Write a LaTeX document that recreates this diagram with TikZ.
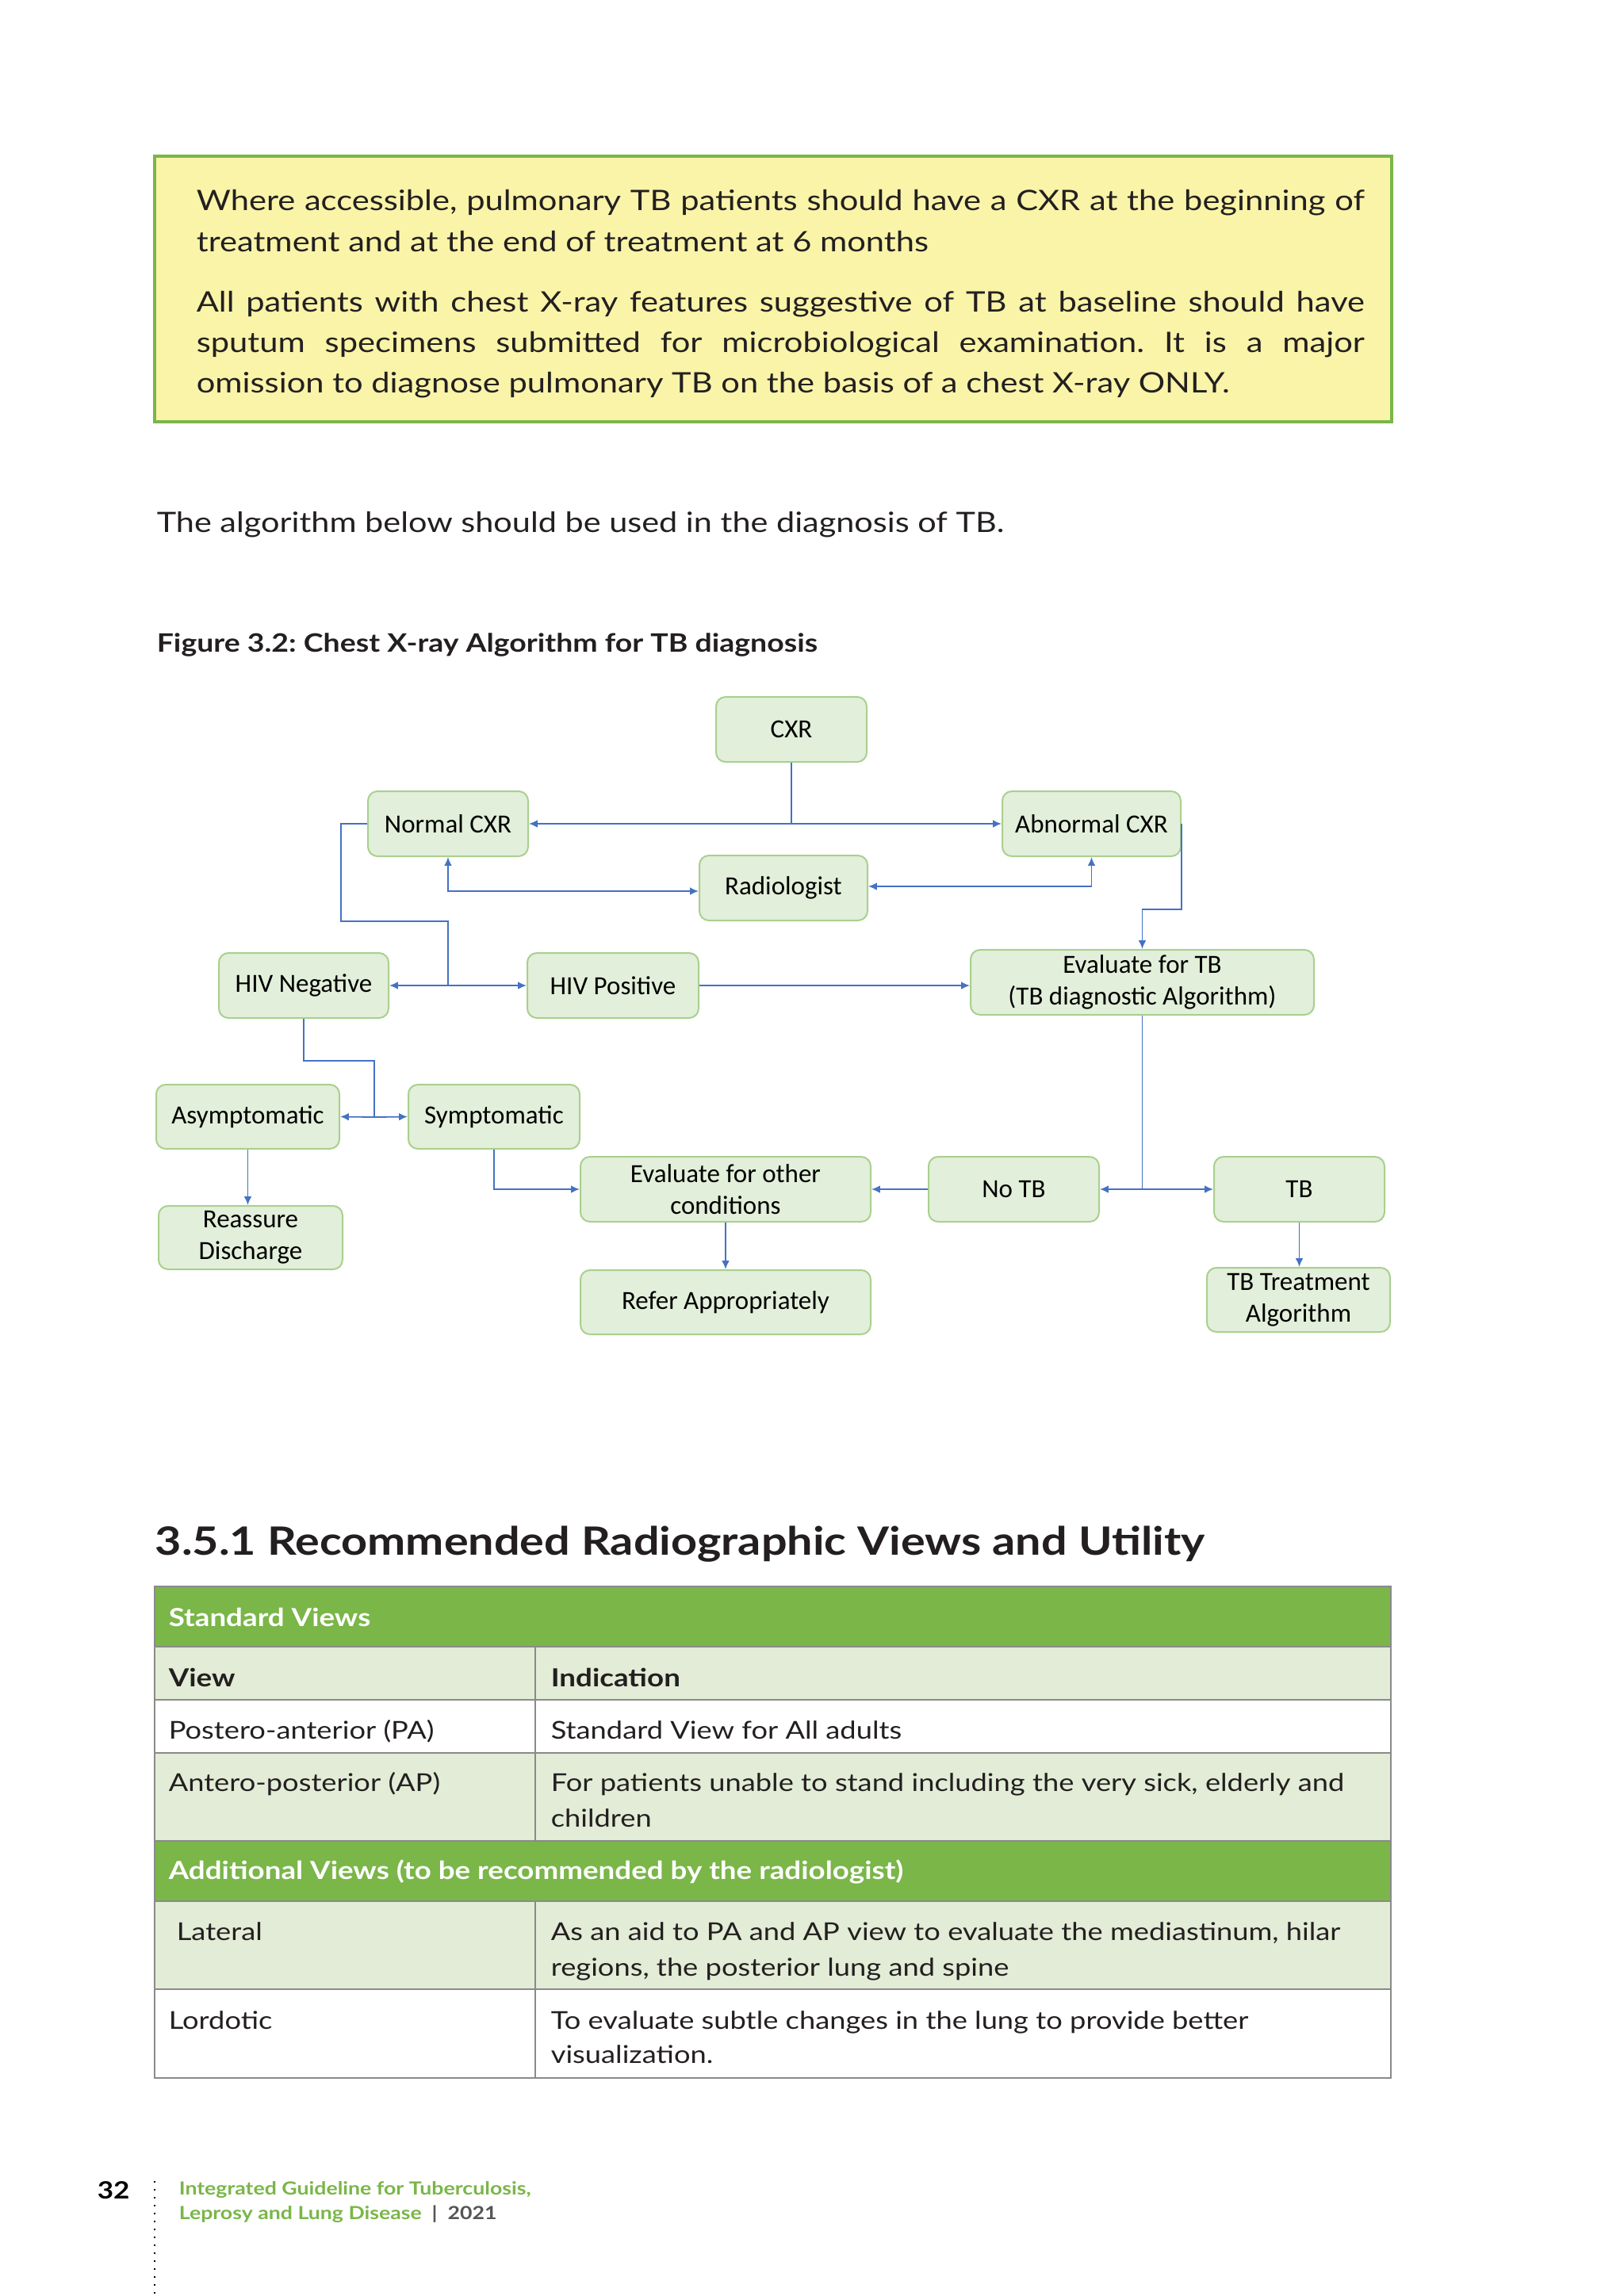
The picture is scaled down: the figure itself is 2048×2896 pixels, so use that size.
\documentclass[tikz,border=0pt]{standalone}
\usepackage{fontspec}
\setmainfont{Lato}[FakeStretch=1.17]
\newfontfamily\calib{Carlito}
\usetikzlibrary{arrows.meta}
\frenchspacing
\definecolor{txt}{HTML}{231F20}
\definecolor{noteFill}{HTML}{F9F4A8}
\definecolor{gGreen}{HTML}{7AB648}
\definecolor{flowFill}{HTML}{E2EFDA}
\definecolor{flowLine}{HTML}{A9D08E}
\definecolor{arrowBlue}{HTML}{4472C4}
\definecolor{rowLight}{HTML}{E2ECD6}
\definecolor{gridGray}{HTML}{8A8A8A}
\definecolor{footGray}{HTML}{555555}
\newcommand{\flowbx}[6]{\node[flowbox, minimum width={(#4-#2)*0.25pt}, minimum height={(#5-#3)*0.25pt}] (#1) at ({(#2+#4)/2},{(#3+#5)/2}) {#6};}
\begin{document}
\frenchspacing
\begin{tikzpicture}[x=0.25pt,y=-0.25pt,
  flowbox/.style={draw=flowLine, fill=flowFill, line width=0.5pt, rounded corners=3pt, inner sep=0pt, align=center, text=black,
    font=\calib\fontsize{8.25pt}{10pt}\selectfont},
  conn/.style={draw=arrowBlue, line width=0.45pt, >={Latex[length=2.7pt,width=2.4pt]}},
  lbl/.style={anchor=base west, inner sep=0pt, text=txt},
  bodyfont/.style={font=\fontsize{8.9pt}{10.5pt}\selectfont},
  tfont/.style={font=\fontsize{7.75pt}{9pt}\selectfont},
  tbold/.style={font=\bfseries\fontsize{7.85pt}{9pt}\selectfont}
]
\useasboundingbox[fill=white] (0,0) rectangle (2048,2896);

% ---------- note box ----------
\node[draw=gGreen, fill=noteFill, line width=1pt, minimum width={1560*0.25pt}, minimum height={335*0.25pt}, inner sep=0pt] (notebox) at (975,364) {};
\node[lbl, bodyfont] (n1) at (247,265) {\makebox[368.25pt][s]{Where accessible, pulmonary TB patients should have a CXR at the beginning of}};
\node[lbl, bodyfont] (n2) at (247,317) {treatment and at the end of treatment at 6 months};
\node[lbl, bodyfont] (n3) at (247,393) {\makebox[368.25pt][s]{All patients with chest X-ray features suggestive of TB at baseline should have}};
\node[lbl, bodyfont] (n4) at (247,444) {\makebox[368.25pt][s]{sputum specimens submitted for microbiological examination. It is a major}};
\node[lbl, bodyfont] (n5) at (247,495) {omission to diagnose pulmonary TB on the basis of a chest X-ray ONLY.};

% ---------- intro and caption ----------
\node[lbl, font=\fontsize{8.85pt}{11pt}\selectfont] (intro) at (197,671) {The algorithm below should be used in the diagnosis of TB.};
\node[lbl, font=\bfseries\fontsize{8pt}{10pt}\selectfont] (caption) at (197,822) {Figure 3.2: Chest X-ray Algorithm for TB diagnosis};

% ---------- flowchart ----------
\flowbx{CXR}{903}{879}{1093}{961}{CXR}
\flowbx{Normal}{464}{998}{666}{1080}{Normal CXR}
\flowbx{Abnormal}{1264}{998}{1489}{1080}{Abnormal CXR}
\flowbx{Radiologist}{882}{1079}{1094}{1161}{Radiologist}
\flowbx{HIVneg}{276}{1202}{490}{1284}{HIV Negative}
\flowbx{HIVpos}{665}{1202}{881}{1284}{HIV Positive}
\flowbx{EvalTB}{1224}{1198}{1657}{1280}{Evaluate for TB\\(TB diagnostic Algorithm)}
\flowbx{Asym}{197}{1368}{428}{1449}{Asymptomatic}
\flowbx{Symp}{515}{1368}{731}{1449}{Symptomatic}
\flowbx{Reassure}{200}{1521}{432}{1601}{Reassure\\Discharge}
\flowbx{EvalOther}{732}{1459}{1098}{1541}{Evaluate for other\\conditions}
\flowbx{NoTB}{1171}{1459}{1386}{1541}{No TB}
\flowbx{TB}{1531}{1459}{1746}{1541}{TB}
\flowbx{Refer}{732}{1602}{1098}{1683}{Refer Appropriately}
\flowbx{TBT}{1522}{1599}{1753}{1680}{TB Treatment\\Algorithm}

\coordinate (j1) at (CXR.south |- Normal.east);
\draw[conn] (CXR.south) -- (j1);
\draw[conn,->] (j1) -- (Normal.east);
\draw[conn,->] (j1) -- (Abnormal.west);

\draw[conn,<->] (Normal.south) |- ([yshift=-1pt]Radiologist.west);
\draw[conn,<->] (Abnormal.south) |- ([yshift=0.5pt]Radiologist.east);

\coordinate (j2) at (Normal.south |- HIVneg.east);
\draw[conn] (Normal.west) -- ++(-33,0) -- ++(0,123) -| (j2);
\draw[conn,->] (j2) -- (HIVneg.east);
\draw[conn,->] (j2) -- (HIVpos.west);

\draw[conn,->] (Abnormal.east) -- ++(0,108) -| (EvalTB.north);
\draw[conn,->] (HIVpos.east) -- (HIVpos.east -| EvalTB.west);

\coordinate (j3) at (472,1409);
\draw[conn] (HIVneg.south) -- ++(0,53) -| (j3);
\draw[conn,->] (j3) -- (Asym.east);
\draw[conn,->] (j3) -- (Symp.west);

\draw[conn,->] (Asym.south) -- (Asym.south |- Reassure.north);
\draw[conn,->] (Symp.south) |- (EvalOther.west);

\coordinate (j4) at (EvalTB.south |- NoTB.east);
\draw[conn] (EvalTB.south) -- (j4);
\draw[conn,->] (j4) -- (NoTB.east);
\draw[conn,->] (j4) -- (TB.west);
\draw[conn,->] (NoTB.west) -- (EvalOther.east);
\draw[conn,->] (EvalOther.south) -- (Refer.north);
\draw[conn,->] (TB.south) -- (TB.south |- TBT.north);

% ---------- section heading ----------
\node[lbl, font=\bfseries\fontsize{12.3pt}{15pt}\selectfont] (heading) at (195,1961) {3.5.1 Recommended Radiographic Views and Utility};

% ---------- table ----------
\fill[gGreen] (195,2001) rectangle (1754,2077);
\fill[rowLight] (195,2077) rectangle (1754,2144);
\fill[white] (195,2144) rectangle (1754,2211);
\fill[rowLight] (195,2211) rectangle (1754,2322);
\fill[gGreen] (195,2322) rectangle (1754,2398);
\fill[rowLight] (195,2398) rectangle (1754,2509);
\fill[white] (195,2509) rectangle (1754,2621);
\draw[gridGray, line width=0.5pt] (195,2001) rectangle (1754,2621);
\foreach \yy in {2077,2144,2211,2322,2398,2509}
  \draw[gridGray, line width=0.5pt] (195,\yy) -- (1754,\yy);
\draw[gridGray, line width=0.5pt] (675,2077) -- (675,2322);
\draw[gridGray, line width=0.5pt] (675,2398) -- (675,2621);

\node[lbl, tbold, text=white] (t0) at (212,2051) {Standard Views};
\node[lbl, tbold] (t1a) at (212,2127) {View};
\node[lbl, tbold] (t1b) at (694,2127) {Indication};
\node[lbl, tfont] (t2a) at (212,2193) {Postero-anterior (PA)};
\node[lbl, tfont] (t2b) at (694,2193) {Standard View for All adults};
\node[lbl, tfont] (t3a) at (212,2259) {Antero-posterior (AP)};
\node[lbl, tfont] (t3b) at (694,2259) {For patients unable to stand including the very sick, elderly and};
\node[lbl, tfont] (t3c) at (694,2304) {children};
\node[lbl, tbold, text=white] (t4) at (212,2370) {Additional Views (to be recommended by the radiologist)};
\node[lbl, tfont] (t5a) at (222,2447) {Lateral};
\node[lbl, tfont] (t5b) at (694,2447) {As an aid to PA and AP view to evaluate the mediastinum, hilar};
\node[lbl, tfont] (t5c) at (694,2492) {regions, the posterior lung and spine};
\node[lbl, tfont] (t6a) at (212,2559) {Lordotic};
\node[lbl, tfont] (t6b) at (694,2559) {To evaluate subtle changes in the lung to provide better};
\node[lbl, tfont] (t6c) at (694,2602) {visualization.};

% ---------- footer ----------
\node[lbl, font=\bfseries\fontsize{7.5pt}{9pt}\selectfont, text=black] (pagenum) at (122,2773) {32};
\draw[black, line width=0.5pt, dotted] (195,2751) -- (195,2896);
\node[lbl, font=\bfseries\fontsize{5.7pt}{7pt}\selectfont, text=gGreen] (foot1) at (225,2768) {Integrated Guideline for Tuberculosis,};
\node[lbl, font=\bfseries\fontsize{5.7pt}{7pt}\selectfont, text=gGreen] (foot2) at (225,2799) {Leprosy and Lung Disease\ \ \textcolor{footGray}{|\ \ 2021}};
\end{tikzpicture}
\end{document}
